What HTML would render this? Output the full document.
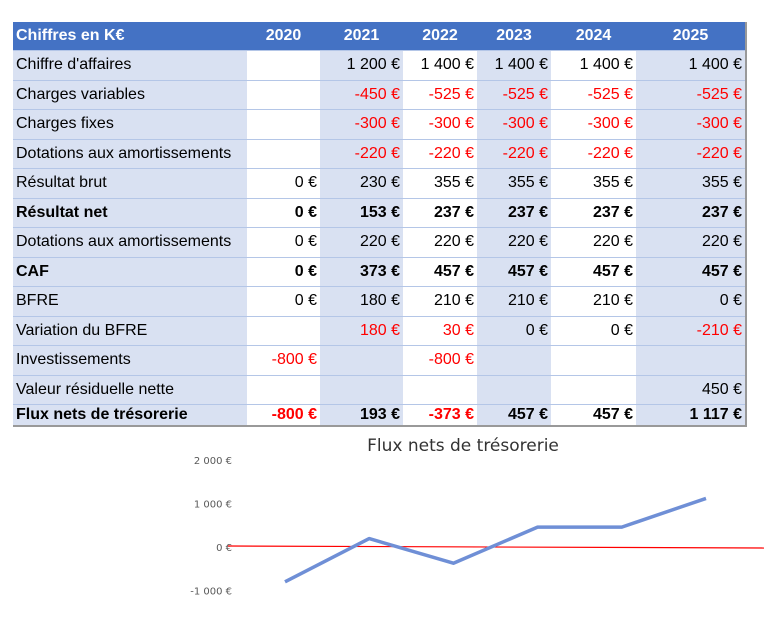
<!DOCTYPE html>
<html><head><meta charset="utf-8"><style>
body{margin:0;width:768px;height:629px;background:#fff;font-family:"Liberation Sans",sans-serif;position:relative;overflow:hidden}
table{position:absolute;left:13px;top:22px;border-collapse:collapse;table-layout:fixed;border-right:2px solid #999;border-bottom:2px solid #999}
td{height:28.5px;padding:0 3px;font-size:16px;border-bottom:1px solid #b4c6e7;white-space:nowrap;text-align:right;color:#000}
td.l{text-align:left;background:#d9e1f2}
tr.h td{background:#4472c4;color:#fff;font-weight:bold;height:28px;text-align:center}
tr.h td.l{text-align:left}
td.b{background:#d9e1f2}
.r{color:#f00}.bo{font-weight:bold}
tr.last td{height:20px}
</style></head><body>
<table>
<colgroup><col style="width:234px"><col style="width:73px"><col style="width:83px"><col style="width:74px"><col style="width:74px"><col style="width:85px"><col style="width:110px"></colgroup>
<tr class="h"><td class="l">Chiffres en K€</td><td>2020</td><td>2021</td><td>2022</td><td>2023</td><td>2024</td><td>2025</td></tr>
<tr><td class="l">Chiffre d'affaires</td><td></td><td class="b">1 200 €</td><td>1 400 €</td><td class="b">1 400 €</td><td>1 400 €</td><td class="b">1 400 €</td></tr>
<tr><td class="l">Charges variables</td><td></td><td class="b r">-450 €</td><td class="r">-525 €</td><td class="b r">-525 €</td><td class="r">-525 €</td><td class="b r">-525 €</td></tr>
<tr><td class="l">Charges fixes</td><td></td><td class="b r">-300 €</td><td class="r">-300 €</td><td class="b r">-300 €</td><td class="r">-300 €</td><td class="b r">-300 €</td></tr>
<tr><td class="l">Dotations aux amortissements</td><td></td><td class="b r">-220 €</td><td class="r">-220 €</td><td class="b r">-220 €</td><td class="r">-220 €</td><td class="b r">-220 €</td></tr>
<tr><td class="l">Résultat brut</td><td>0 €</td><td class="b">230 €</td><td>355 €</td><td class="b">355 €</td><td>355 €</td><td class="b">355 €</td></tr>
<tr class="bo"><td class="l">Résultat net</td><td>0 €</td><td class="b">153 €</td><td>237 €</td><td class="b">237 €</td><td>237 €</td><td class="b">237 €</td></tr>
<tr><td class="l">Dotations aux amortissements</td><td>0 €</td><td class="b">220 €</td><td>220 €</td><td class="b">220 €</td><td>220 €</td><td class="b">220 €</td></tr>
<tr class="bo"><td class="l">CAF</td><td>0 €</td><td class="b">373 €</td><td>457 €</td><td class="b">457 €</td><td>457 €</td><td class="b">457 €</td></tr>
<tr><td class="l">BFRE</td><td>0 €</td><td class="b">180 €</td><td>210 €</td><td class="b">210 €</td><td>210 €</td><td class="b">0 €</td></tr>
<tr><td class="l">Variation du BFRE</td><td></td><td class="b r">180 €</td><td class="r">30 €</td><td class="b">0 €</td><td>0 €</td><td class="b r">-210 €</td></tr>
<tr><td class="l">Investissements</td><td class="r">-800 €</td><td class="b"></td><td class="r">-800 €</td><td class="b"></td><td></td><td class="b"></td></tr>
<tr><td class="l">Valeur résiduelle nette</td><td></td><td class="b"></td><td></td><td class="b"></td><td></td><td class="b">450 €</td></tr>
<tr class="bo last"><td class="l">Flux nets de trésorerie</td><td class="r">-800 €</td><td class="b">193 €</td><td class="r">-373 €</td><td class="b">457 €</td><td>457 €</td><td class="b">1 117 €</td></tr>
</table>
<svg id="chart" width="768" height="629" style="position:absolute;left:0;top:0">
<text x="463" y="451" text-anchor="middle" font-size="17" fill="#333" font-family="DejaVu Sans, sans-serif">Flux nets de trésorerie</text>
</svg>
<script>
const years=["2020","2021","2022","2023","2024","2025"];
const flux=[-800,193,-373,457,457,1117];
const ticks=[2000,1000,0,-1000];
const tickLabels=["2 000 €","1 000 €","0 €","-1 000 €"];
const svg=document.getElementById('chart');
const NS='http://www.w3.org/2000/svg';
const y=v=>547-v*0.0435;
const x=i=>285+i*84.2;
ticks.forEach((t,i)=>{
 const tx=document.createElementNS(NS,'text');
 tx.setAttribute('x',232);tx.setAttribute('y',y(t)+4);tx.setAttribute('text-anchor','end');
 tx.setAttribute('font-size','10');tx.setAttribute('fill','#595959');tx.setAttribute('font-family','DejaVu Sans, sans-serif');
 tx.textContent=tickLabels[i];
 
 
 svg.appendChild(tx);
});
const zl=document.createElementNS(NS,'line');
zl.setAttribute('x1',228);zl.setAttribute('y1',y(0)-1);zl.setAttribute('x2',764);zl.setAttribute('y2',y(0)+1);
zl.setAttribute('stroke','#f00');zl.setAttribute('stroke-width','1.2');


svg.appendChild(zl);
const pl=document.createElementNS(NS,'polyline');
pl.setAttribute('points',flux.map((v,i)=>x(i)+','+y(v)).join(' '));
pl.setAttribute('fill','none');pl.setAttribute('stroke','#6f8fd6');pl.setAttribute('stroke-width','3.5');pl.setAttribute('stroke-linejoin','round');


svg.appendChild(pl);
</script>
</body></html>
